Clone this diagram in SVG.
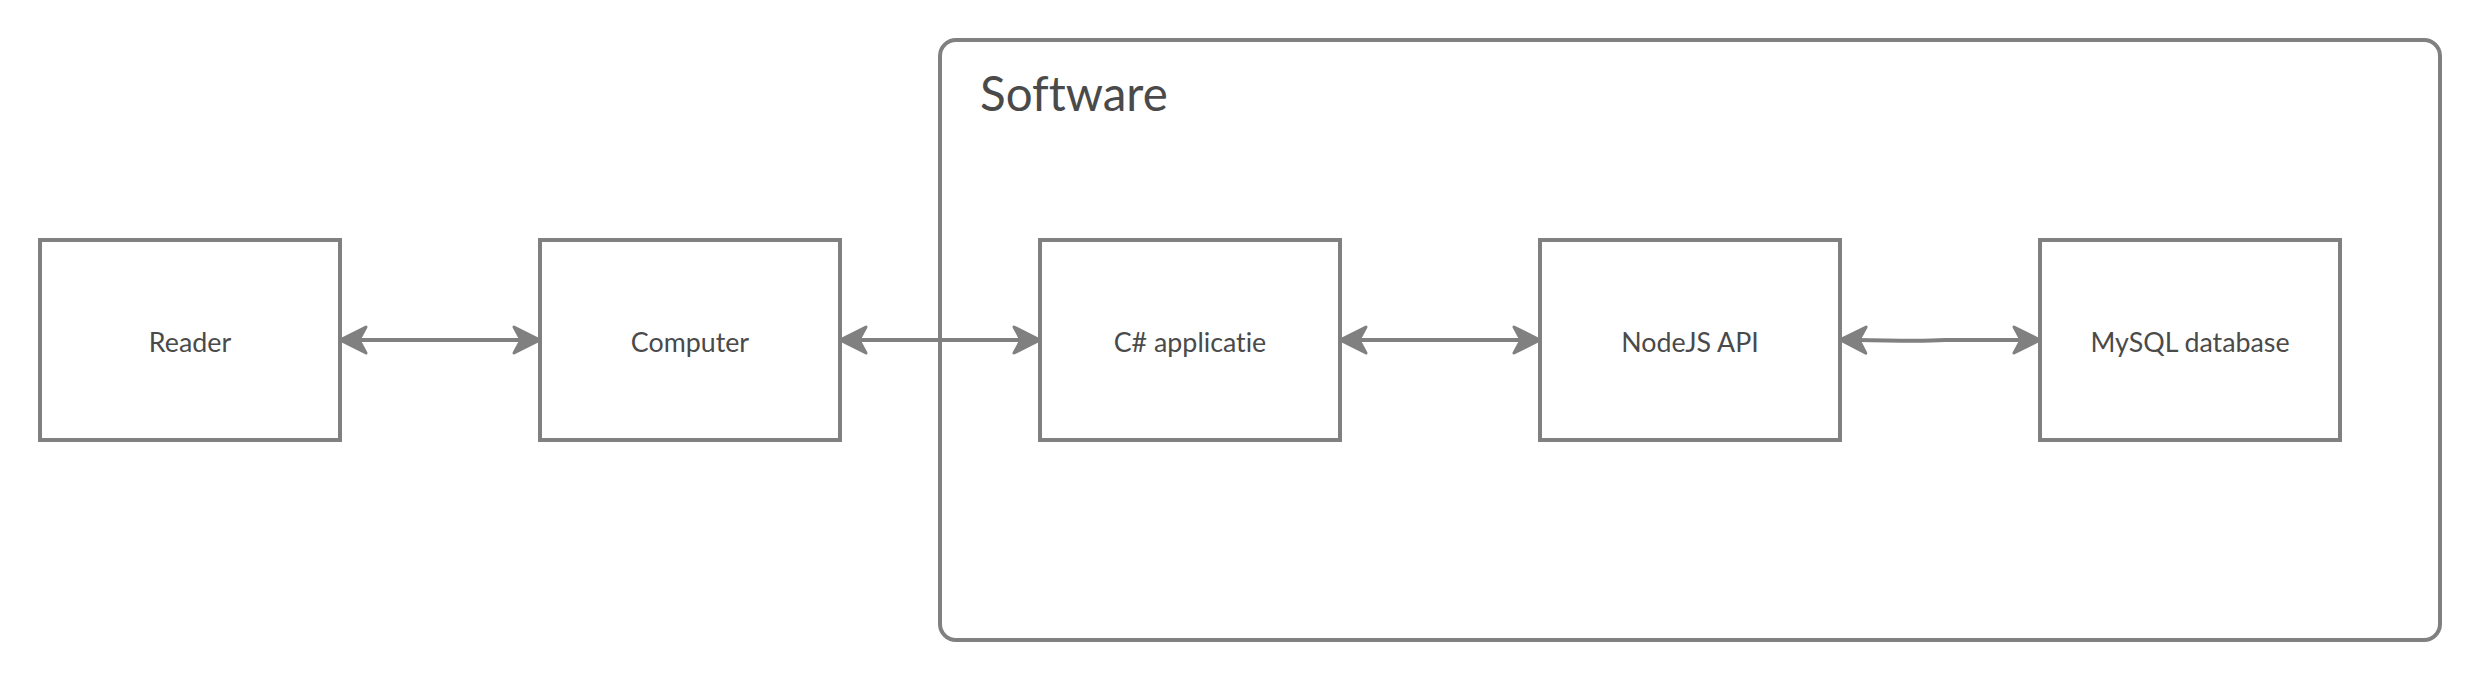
<svg xmlns="http://www.w3.org/2000/svg" width="2480" height="680" viewBox="0 0 2480 680">
  <style>
    .box { fill: #ffffff; stroke: #808080; stroke-width: 4; }
    .container { fill: #ffffff; stroke: #808080; stroke-width: 4; }
    .label { font-family: Lato, "Liberation Sans", sans-serif; font-size: 26.8px; fill: #4a4a4a; text-anchor: middle; font-variant-ligatures: none; }
    .title { font-family: Lato, "Liberation Sans", sans-serif; font-size: 47.5px; fill: #4a4a4a; font-variant-ligatures: none; }
    .conn { fill: none; stroke: #808080; stroke-width: 4; marker-start: url(#arrow); marker-end: url(#arrow); }
  </style>
  <defs>
    <marker id="arrow" viewBox="-30 -18 34 36" refX="-18" refY="0" markerWidth="34" markerHeight="36" markerUnits="userSpaceOnUse" orient="auto-start-reverse">
      <path d="M0,0 L-26,-13 L-19,0 L-26,13 Z" fill="#808080" stroke="#808080" stroke-width="3" stroke-linejoin="round"/>
    </marker>
  </defs>
  <rect width="2480" height="680" fill="#ffffff"/>

  <g id="software">
    <rect class="container" x="940" y="40" width="1500" height="600" rx="16" ry="16"/>
    <text class="title" x="980" y="111">Software</text>
  </g>

  <g id="reader">
    <rect class="box" x="40" y="240" width="300" height="200"/>
    <text class="label" x="190" y="352">Reader</text>
  </g>
  <g id="computer">
    <rect class="box" x="540" y="240" width="300" height="200"/>
    <text class="label" x="690" y="352">Computer</text>
  </g>
  <g id="csharp">
    <rect class="box" x="1040" y="240" width="300" height="200"/>
    <text class="label" x="1190" y="352">C# applicatie</text>
  </g>
  <g id="nodejs">
    <rect class="box" x="1540" y="240" width="300" height="200"/>
    <text class="label" x="1690" y="352">NodeJS API</text>
  </g>
  <g id="mysql">
    <rect class="box" x="2040" y="240" width="300" height="200"/>
    <text class="label" x="2190" y="352">MySQL database</text>
  </g>

  <g id="connectors">
    <path class="conn" d="M358,340 L522,340"/>
    <path class="conn" d="M858,340 L1022,340"/>
    <path class="conn" d="M1358,340 L1522,340"/>
    <path class="conn" d="M1858,340 C1900,340.5 1920,341.5 1945,340 L2022,340"/>
  </g>
</svg>
